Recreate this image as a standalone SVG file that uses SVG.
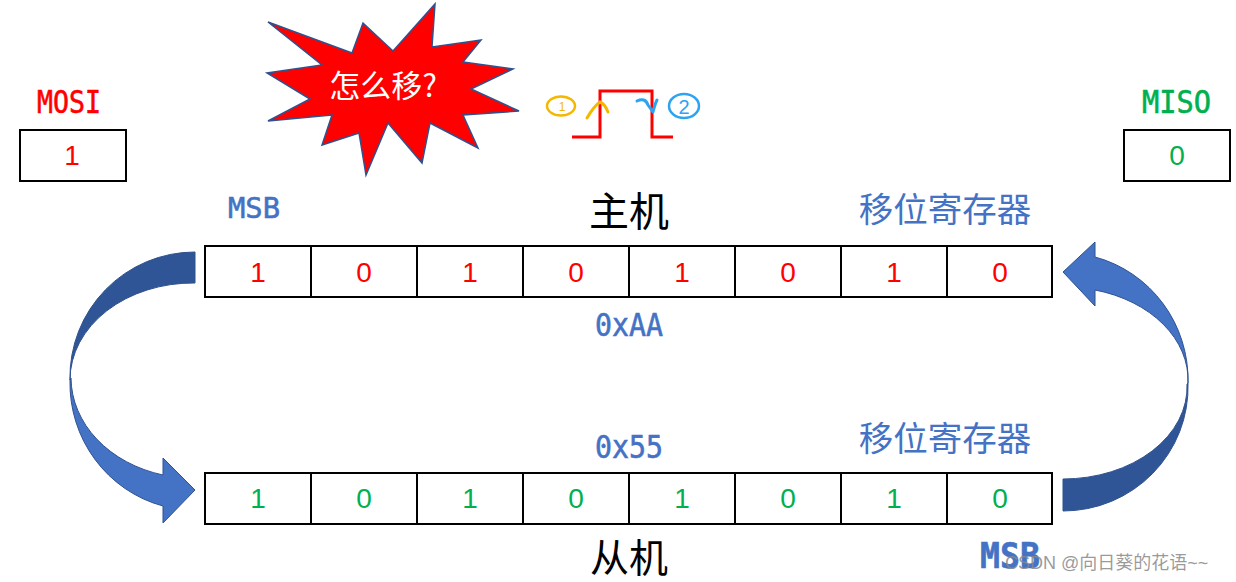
<svg xmlns="http://www.w3.org/2000/svg" width="1236" height="582" viewBox="0 0 1236 582">
<style>
.box{fill:#fff;stroke:#000;stroke-width:2}
.mono{font-family:"DejaVu Sans Mono","Liberation Mono",monospace;stroke-width:0.6}
.dig{font-family:"Liberation Sans",Arial,sans-serif;font-size:28px;text-anchor:middle}
.red{fill:#FF0000;stroke:#FF0000}
.green{fill:#00B050;stroke:#00B050}
.blue{fill:#4472C4;stroke:#4472C4}
.dig.red,.dig.green,.dig .red{stroke:none}
.cjk{font-family:"Noto Sans CJK SC","Noto Sans",sans-serif}
.cjk.blue{stroke:none}
.dark{fill:#2F5597;stroke:#2F528F;stroke-width:1}
.light{fill:#4472C4;stroke:#2F528F;stroke-width:1}
</style>
<rect width="1236" height="582" fill="#fff"/>

<g id="mosi">
<text class="mono red" x="37" y="113" font-size="32" textLength="64" lengthAdjust="spacingAndGlyphs">MOSI</text>
<rect class="box" x="20" y="130" width="106" height="51"/>
<text class="dig red" x="72" y="165" font-size="30" stroke="none">1</text>
</g>

<g id="miso">
<text class="mono green" x="1142" y="113" font-size="32" textLength="69" lengthAdjust="spacingAndGlyphs">MISO</text>
<rect class="box" x="1124" y="130" width="106" height="51"/>
<text class="dig green" x="1177" y="165" font-size="30" stroke="none">0</text>
</g>

<g id="burst">
<polygon points="268,22 352,53 363,23 393,51 435,4 432,47 481,40 463,62 513,69 471,89 519,111 463,115 478,148 430,123 422,163 388,123 366,175 359,133 322,145 332,115 268,121 310,99 267,73 322,65" fill="#FF0000" stroke="#2F528F" stroke-width="1.5" stroke-linejoin="miter"/>
<text class="cjk" x="383" y="97" font-size="31" fill="#fff" text-anchor="middle">怎么移?</text>
</g>

<g id="clock">
<polyline points="572,137 600,137 600,91 652,91 652,137 673,137" fill="none" stroke="#FF0000" stroke-width="3"/>
<ellipse cx="561" cy="106" rx="14" ry="9.5" fill="none" stroke="#F5B800" stroke-width="2.5"/>
<text x="562" y="111" font-family="Liberation Sans,sans-serif" font-size="12" fill="#F5B800" text-anchor="middle">1</text>
<path d="M587,118 Q594,106 600,102 Q605,104 608,112" fill="none" stroke="#F5B800" stroke-width="3" stroke-linecap="round"/>
<path d="M637,101 Q645,97 648,105 L653,112 Q655,104 657,100" fill="none" stroke="#2EA3F2" stroke-width="3" stroke-linecap="round" stroke-linejoin="round"/>
<ellipse cx="684" cy="106" rx="15" ry="12" fill="none" stroke="#2EA3F2" stroke-width="2.5"/>
<text x="684" y="114" font-family="Liberation Sans,sans-serif" font-size="20" fill="#2EA3F2" text-anchor="middle">2</text>
</g>

<g id="master">
<text class="mono blue" x="228" y="218" font-size="29" textLength="52" lengthAdjust="spacingAndGlyphs">MSB</text>
<text class="cjk" x="629" y="226" font-size="40" fill="#000" text-anchor="middle">主机</text>
<text class="cjk blue" x="945" y="222" font-size="34.5" text-anchor="middle">移位寄存器</text>
<rect class="box" x="205" y="246" width="847" height="51"/>
<path d="M311,246V297M417,246V297M523,246V297M629,246V297M735,246V297M841,246V297M947,246V297" stroke="#000" stroke-width="2"/>
<g class="dig" fill="#FF0000">
<text x="258" y="282">1</text><text x="364" y="282">0</text><text x="470" y="282">1</text><text x="576" y="282">0</text>
<text x="682" y="282">1</text><text x="788" y="282">0</text><text x="894" y="282">1</text><text x="1000" y="282">0</text>
</g>
<text class="mono blue" x="595" y="336" font-size="32" textLength="68" lengthAdjust="spacingAndGlyphs">0xAA</text>
</g>

<g id="slave">
<text class="mono blue" x="595" y="458" font-size="32" textLength="68" lengthAdjust="spacingAndGlyphs">0x55</text>
<text class="cjk blue" x="945" y="451" font-size="34.5" text-anchor="middle">移位寄存器</text>
<rect class="box" x="205" y="473" width="847" height="51"/>
<path d="M311,473V524M417,473V524M523,473V524M629,473V524M735,473V524M841,473V524M947,473V524" stroke="#000" stroke-width="2"/>
<g class="dig" fill="#00B050">
<text x="258" y="508">1</text><text x="364" y="508">0</text><text x="470" y="508">1</text><text x="576" y="508">0</text>
<text x="682" y="508">1</text><text x="788" y="508">0</text><text x="894" y="508">1</text><text x="1000" y="508">0</text>
</g>
<text class="cjk" x="629" y="572" font-size="39" fill="#000" text-anchor="middle">从机</text>
<text class="mono blue" x="980" y="568" font-size="36" font-weight="bold" textLength="60" lengthAdjust="spacingAndGlyphs">MSB</text>
</g>

<g id="connectors">
<path class="dark" d="M195,252 A125,125 0 0 0 70,380 A123,97 0 0 1 195,283 Z"/>
<path class="light" d="M70,380 A125,127 0 0 0 163,506 L163,523 L195,490 L163,458 L163,475 A123,101 0 0 1 71,378 Z"/>
<path class="light" d="M1063,272 L1095,242 L1095,257 A125,127 0 0 1 1188,383 A124,93 0 0 0 1095,290 L1095,306 Z"/>
<path class="dark" d="M1188,383 A125,124 0 0 1 1063,511 L1063,479 A124,92 0 0 0 1187,384 Z"/>
</g>

<text id="watermark" x="1005" y="569" font-family="Liberation Sans,Noto Sans CJK SC,sans-serif" font-size="18" fill="#888" fill-opacity="0.85">CSDN @向日葵的花语~~</text>
</svg>
